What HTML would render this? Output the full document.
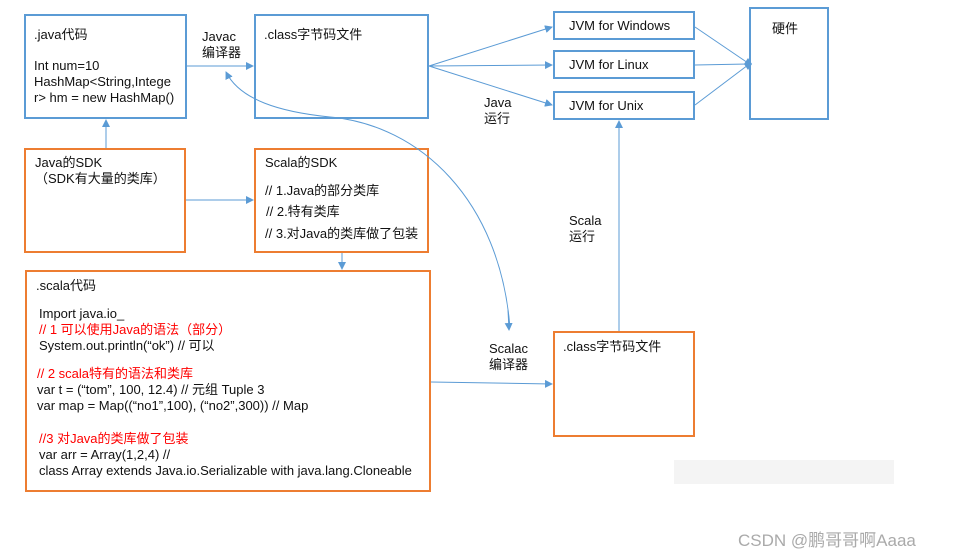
<!DOCTYPE html>
<html><head><meta charset="utf-8"><style>
body{margin:0;width:956px;height:560px;background:#fff;position:relative;overflow:hidden;font-family:"Liberation Sans","Noto Sans CJK SC",sans-serif;font-size:13px;color:#111;}
.b{position:absolute;box-sizing:border-box;border:2px solid #5b9bd5;background:#fff;}
.o{border-color:#ed7d31;}
.t{position:absolute;line-height:16px;white-space:nowrap;}
.r{color:#f00;}
svg{position:absolute;left:0;top:0;}
</style></head><body>
<div class="b" style="left:24px;top:14px;width:163px;height:105px"></div>
<div class="b" style="left:254px;top:14px;width:175px;height:105px"></div>
<div class="b o" style="left:24px;top:148px;width:162px;height:105px"></div>
<div class="b o" style="left:254px;top:148px;width:175px;height:105px"></div>
<div class="b o" style="left:25px;top:270px;width:406px;height:222px"></div>
<div class="b" style="left:553px;top:11px;width:142px;height:29px"></div>
<div class="b" style="left:553px;top:50px;width:142px;height:29px"></div>
<div class="b" style="left:553px;top:91px;width:142px;height:29px"></div>
<div class="b" style="left:749px;top:7px;width:80px;height:113px"></div>
<div class="b o" style="left:553px;top:331px;width:142px;height:106px"></div>
<svg width="956" height="560">
<defs><marker id="a" markerWidth="8" markerHeight="8" refX="7" refY="4" orient="auto" markerUnits="userSpaceOnUse"><path d="M0,0L8,4L0,8z" fill="#5b9bd5"/></marker></defs>
<g stroke="#5b9bd5" stroke-width="1" fill="none">
<line x1="187" y1="66" x2="253" y2="66" marker-end="url(#a)"/>
<line x1="106" y1="148" x2="106" y2="120" marker-end="url(#a)"/>
<line x1="186" y1="200" x2="253" y2="200" marker-end="url(#a)"/>
<line x1="342" y1="253" x2="342" y2="269" marker-end="url(#a)"/>
<line x1="431" y1="382" x2="552" y2="384" marker-end="url(#a)"/>
<line x1="619" y1="331" x2="619" y2="121" marker-end="url(#a)"/>
<line x1="429" y1="66" x2="552" y2="27" marker-end="url(#a)"/>
<line x1="429" y1="66" x2="552" y2="65" marker-end="url(#a)"/>
<line x1="429" y1="66" x2="552" y2="105" marker-end="url(#a)"/>
<line x1="695" y1="27" x2="748" y2="63"/>
<line x1="695" y1="65" x2="748" y2="64"/>
<line x1="695" y1="105" x2="748" y2="65"/>
<path d="M510,328 C500,200 420,125 330,117 C280,112 240,100 226,72" marker-end="url(#a)"/>
<path d="M508,310 L509,330" marker-end="url(#a)"/>
</g>
<path d="M748,58 L752,64 L748,70 L744,64z" fill="#5b9bd5"/>
</svg>
<div class="t" style="left:34px;top:27px">.java代码</div>
<div class="t" style="left:34px;top:58px">Int num=10<br>HashMap&lt;String,Intege<br>r&gt; hm = new HashMap()</div>
<div class="t" style="left:202px;top:29px">Javac<br>编译器</div>
<div class="t" style="left:264px;top:27px">.class字节码文件</div>
<div class="t" style="left:35px;top:155px">Java的SDK<br>（SDK有大量的类库）</div>
<div class="t" style="left:265px;top:155px">Scala的SDK</div>
<div class="t" style="left:265px;top:183px">// 1.Java的部分类库</div>
<div class="t" style="left:266px;top:204px">// 2.特有类库</div>
<div class="t" style="left:265px;top:226px">// 3.对Java的类库做了包装</div>
<div class="t" style="left:36px;top:278px">.scala代码</div>
<div class="t" style="left:39px;top:306px">Import java.io_<br><span class="r">// 1 可以使用Java的语法（部分）</span><br>System.out.println(“ok”)  // 可以</div>
<div class="t" style="left:37px;top:366px"><span class="r">// 2 scala特有的语法和类库</span><br>var t = (“tom”, 100, 12.4) // 元组 Tuple 3<br>var map = Map((“no1”,100), (“no2”,300))  // Map</div>
<div class="t" style="left:39px;top:431px"><span class="r">//3 对Java的类库做了包装</span><br>var arr = Array(1,2,4) //<br>class Array extends Java.io.Serializable with java.lang.Cloneable</div>
<div class="t" style="left:569px;top:18px">JVM for Windows</div>
<div class="t" style="left:569px;top:57px">JVM for Linux</div>
<div class="t" style="left:569px;top:98px">JVM for Unix</div>
<div class="t" style="left:772px;top:21px">硬件</div>
<div class="t" style="left:484px;top:95px">Java<br>运行</div>
<div class="t" style="left:569px;top:213px">Scala<br>运行</div>
<div class="t" style="left:489px;top:341px">Scalac<br>编译器</div>
<div class="t" style="left:563px;top:339px">.class字节码文件</div>
<div style="position:absolute;left:674px;top:460px;width:220px;height:24px;background:#f4f4f4"></div>
<div class="t" style="left:738px;top:530px;font-size:17px;line-height:22px;color:#aaa">CSDN @鹏哥哥啊Aaaa</div>
</body></html>
